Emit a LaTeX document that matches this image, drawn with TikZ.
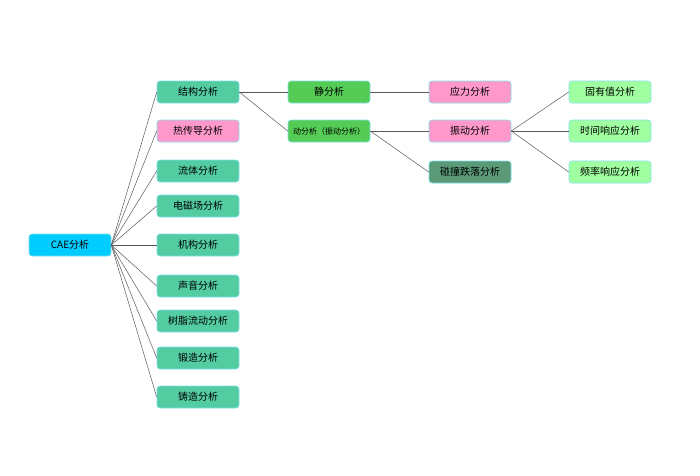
\documentclass[tikz,border=0pt]{standalone}
\usepackage{fontspec}
\newfontfamily\cjk{Noto Sans CJK SC}
\definecolor{teal1}{HTML}{52CCA0}
\definecolor{pink1}{HTML}{FF99CC}
\definecolor{green1}{HTML}{55CC55}
\definecolor{dgreen}{HTML}{5A9A78}
\definecolor{lgreen}{HTML}{A0FFA0}
\definecolor{cae}{HTML}{00CCFF}
\definecolor{edge}{HTML}{80E0E8}
\begin{document}
\begin{tikzpicture}[x=1pt,y=-1pt,
 box/.style={draw=edge,line width=0.6pt,rounded corners=3pt,minimum width=82pt,minimum height=22pt,inner sep=1pt,font=\cjk\fontsize{10}{12}\selectfont},
 ln/.style={draw=black!65,line width=0.5pt}]
\useasboundingbox (0,0) rectangle (700,475);
\node[box,fill=cae] (cae) at (70,245) {CAE分析};
\foreach \n/\t/\y/\c in {a/结构分析/92/teal1,b/热传导分析/131/pink1,c/流体分析/171/teal1,d/电磁场分析/206/teal1,e/机构分析/245/teal1,f/声音分析/286/teal1,g/树脂流动分析/321/teal1,h/锻造分析/358/teal1,i/铸造分析/397/teal1}{
 \node[box,fill=\c] (\n) at (198,\y) {\t};
 \draw[ln] (cae.east) -- (\n.west);}
\node[box,fill=green1] (s) at (329,92) {静分析};
\node[box,fill=green1,font=\cjk\fontsize{8}{10}\selectfont] (dy) at (329,131) {动分析（振动分析）};
\node[box,fill=pink1] (yl) at (470,92) {应力分析};
\node[box,fill=pink1] (zd) at (470,131) {振动分析};
\node[box,fill=dgreen] (pz) at (470,172) {碰撞跌落分析};
\node[box,fill=lgreen] (gy) at (610,92) {固有值分析};
\node[box,fill=lgreen] (sj) at (610,131) {时间响应分析};
\node[box,fill=lgreen] (pl) at (610,172) {频率响应分析};
\draw[ln] (a.east) -- (s.west);
\draw[ln] (a.east) -- (dy.west);
\draw[ln] (s.east) -- (yl.west);
\draw[ln] (dy.east) -- (zd.west);
\draw[ln] (dy.east) -- (pz.west);
\draw[ln] (zd.east) -- (gy.west);
\draw[ln] (zd.east) -- (sj.west);
\draw[ln] (zd.east) -- (pl.west);
\end{tikzpicture}
\end{document}
